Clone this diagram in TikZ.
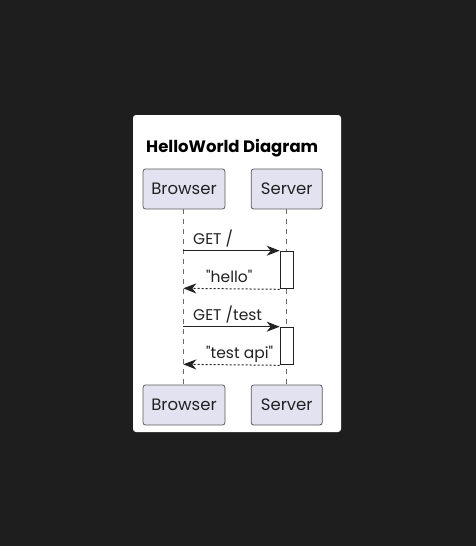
\documentclass[tikz,border=0pt]{standalone}
\usepackage{fontspec}
\newfontfamily\uifont{Poppins}
\usetikzlibrary{arrows.meta}
\definecolor{bg}{HTML}{1E1E1E}
\definecolor{partfill}{HTML}{E2E2F0}
\definecolor{partdraw}{HTML}{5A5A5A}
\definecolor{lifeline}{HTML}{6A6A6A}
\definecolor{ink}{HTML}{222222}
\tikzset{
  part/.style={draw=partdraw, fill=partfill, rounded corners=2.5pt, line width=0.8pt,
    minimum width=82pt, minimum height=40pt, inner sep=0pt, font=\uifont\fontsize{16.5}{20}\selectfont, text=ink},
  actbox/.style={draw=ink, fill=white, line width=1pt, minimum width=13pt, inner sep=0pt},
  lifel/.style={draw=lifeline, line width=0.8pt, dash pattern=on 5pt off 5pt},
  msg/.style={draw=ink, line width=1pt, -{Stealth[length=13pt,width=10pt,inset=4pt]}},
  ret/.style={msg, dash pattern=on 2pt off 2pt},
  lbl/.style={font=\uifont\fontsize{15.5}{18}\selectfont, text=ink, inner sep=0pt, anchor=base west},
}
\begin{document}
\begin{tikzpicture}[x=1pt,y=-1pt]
\useasboundingbox (0,0) rectangle (476,546);
\fill[bg] (0,0) rectangle (476,546);
\fill[white, rounded corners=3pt] (133,115) rectangle (341,432);
\node[font=\uifont\bfseries\fontsize{16.5}{20}\selectfont, text=black, anchor=base west, inner sep=0pt] (title) at (146,152) {HelloWorld Diagram};
\node[part] (b1) at (184,189) {Browser};
\node[part, minimum width=71pt] (s1) at (286.7,189) {Server};
\node[part] (b2) at (184,405) {Browser};
\node[part, minimum width=71pt] (s2) at (286.7,405) {Server};
\draw[lifel] (183.3,209) -- (183.3,385);
\draw[lifel] (286.7,209) -- (286.7,385);
\node[actbox, minimum height=37.6pt, anchor=north] (a1) at (286.7,250.7) {};
\node[actbox, minimum height=37.6pt, anchor=north] (a2) at (286.7,326.7) {};
\coordinate (m1s) at (183.3,250.7);
\coordinate (r1e) at (183.3,288.3);
\coordinate (m2s) at (183.3,326.7);
\coordinate (r2e) at (183.3,364.3);
\draw[msg] (m1s) -- (a1.north west);
\draw[ret] (a1.south west) -- (r1e);
\draw[msg] (m2s) -- (a2.north west);
\draw[ret] (a2.south west) -- (r2e);
\node[lbl] (l1) at (193,244) {GET /};
\node[lbl] (l2) at (206,282) {"hello"};
\node[lbl] (l3) at (193,320) {GET /test};
\node[lbl] (l4) at (206,358) {"test api"};
\end{tikzpicture}
\end{document}
